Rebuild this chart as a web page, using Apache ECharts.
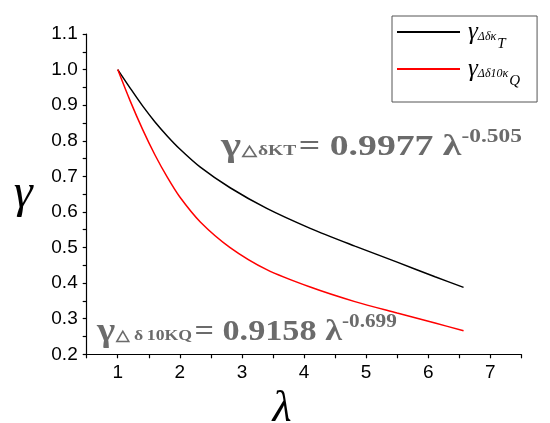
<!DOCTYPE html>
<html>
<head>
<meta charset="utf-8">
<script src="https://cdn.jsdelivr.net/npm/echarts@6/dist/echarts.min.js"></script>
<style>
html,body{margin:0;padding:0;background:#fff;}
#chart{width:550px;height:423px;}
</style>
</head>
<body>
<div id="chart"></div>
<script>
// ---- data ----
const lambda    = [1, 1.2, 1.4, 1.6, 1.8, 2.0, 2.33, 2.81, 3.4, 4.1, 4.82, 5.5, 6.11, 6.57];
const gammaKT   = [1.0, 0.948, 0.898, 0.853, 0.813, 0.777, 0.726, 0.668, 0.610, 0.554, 0.504, 0.459, 0.418, 0.388];
const gamma10KQ = [1.0, 0.912, 0.832, 0.760, 0.697, 0.642, 0.572, 0.500, 0.438, 0.389, 0.348, 0.316, 0.288, 0.266];
const seriesNames = ['gKT', 'g10KQ'];
const xTicks = [1, 2, 3, 4, 5, 6, 7];

const pairs = (xs, ys) => xs.map((x, i) => [x, ys[i]]);

const serif = '"Liberation Serif", "Times New Roman", serif';
const sans = '"Liberation Sans", Arial, sans-serif';
const gray = '#6b6b6b';

function legendRich() {
  return {
    g:  { fontFamily: serif, fontStyle: 'italic', fontSize: 25, lineHeight: 24, padding: [0, 0, 0, 3], verticalAlign: 'top', color: '#000' },
    s:  { fontFamily: serif, fontStyle: 'italic', fontSize: 12, lineHeight: 12, padding: [11, 1, 0, 0], verticalAlign: 'top', color: '#000' },
    t:  { fontFamily: serif, fontStyle: 'italic', fontSize: 15, lineHeight: 14, padding: [17, 0, 0, 0], verticalAlign: 'top', color: '#000' }
  };
}

function annRich() {
  return {
    g:   { fontFamily: serif, fontWeight: 'bold', fontSize: 33, lineHeight: 32, padding: [5, 0, 0, 0], verticalAlign: 'top', fill: gray },
    s:   { fontFamily: serif, fontWeight: 'bold', fontSize: 15, lineHeight: 15, padding: [18, 2, 0, 1], verticalAlign: 'top', fill: gray },
    m:   { fontFamily: serif, fontWeight: 'bold', fontSize: 29, lineHeight: 29, padding: [7, 0, 0, 0], verticalAlign: 'top', fill: gray },
    p:   { fontFamily: serif, fontWeight: 'bold', fontSize: 18, lineHeight: 18, padding: [2, 0, 0, 0], verticalAlign: 'top', fill: gray }
  };
}

const chart = echarts.init(document.getElementById('chart'));
chart.setOption({
  animation: false,
  backgroundColor: '#fff',
  grid: { left: 86.7, right: 28.7, top: 34, bottom: 68.7, containLabel: false, outerBoundsMode: 'none' },
  legend: {
    orient: 'vertical',
    left: 392, top: 16,
    width: 130,
    padding: [4, 17, 13, 5],
    borderColor: '#555', borderWidth: 1,
    itemWidth: 63, itemHeight: 2,
    itemGap: 5,
    icon: 'rect',
    data: seriesNames,
    formatter: function (name) {
      return name === 'gKT' ? '{g|γ}{s|Δδκ}{t|T}' : '{g|γ}{s|Δδ10κ}{t|Q}';
    },
    textStyle: { rich: legendRich() }
  },
  xAxis: {
    type: 'value', min: 0.5, max: 7.5, interval: 0.5,
    name: 'λ', nameLocation: 'middle', nameGap: 27,
    nameTextStyle: { fontFamily: serif, fontStyle: 'italic', fontSize: 44, color: '#000', padding: [0, 44, 0, 0], verticalAlign: 'top' },
    axisLine: { lineStyle: { color: '#000', width: 1.2 } },
    axisTick: { inside: false, length: 4, lineStyle: { color: '#000', width: 1.2 } },
    axisLabel: {
      margin: 9, fontFamily: sans, fontSize: 19, color: '#000',
      formatter: v => xTicks.includes(Math.round(v * 100) / 100) ? String(Math.round(v)) : ''
    },
    splitLine: { show: false }
  },
  yAxis: {
    type: 'value', min: 0.2, max: 1.1, interval: 0.05,
    name: 'γ', nameLocation: 'middle', nameGap: 54, nameRotate: 0,
    nameTextStyle: { fontFamily: serif, fontStyle: 'italic', fontSize: 48, color: '#000' },
    axisLine: { show: true, lineStyle: { color: '#000', width: 1.2 } },
    axisTick: { show: true, inside: false, length: 4, lineStyle: { color: '#000', width: 1.2 } },
    axisLabel: {
      margin: 9, fontFamily: sans, fontSize: 19, color: '#000',
      formatter: v => Math.abs(v * 10 - Math.round(v * 10)) < 1e-6 ? (Math.round(v * 10) / 10).toFixed(1) : ''
    },
    splitLine: { show: false }
  },
  series: [
    { name: seriesNames[0], type: 'line', smooth: 0.3, showSymbol: false, data: pairs(lambda, gammaKT),
      lineStyle: { color: '#000', width: 1.5 }, itemStyle: { color: '#000' } },
    { name: seriesNames[1], type: 'line', smooth: 0.3, showSymbol: false, data: pairs(lambda, gamma10KQ),
      lineStyle: { color: '#ff0000', width: 1.5 }, itemStyle: { color: '#ff0000' } }
  ],
  graphic: [
    { type: 'text', x: 221, y: 126, scaleX: 1.3, z: 10,
      style: { text: '{g|γ}{s|△δKT}{m|= 0.9977 λ}{p|-0.505}', rich: annRich(), fill: gray } },
    { type: 'text', x: 97, y: 311, scaleX: 1.18, z: 10,
      style: { text: '{g|γ}{s|△\u2009δ\u200910KQ}{m|= 0.9158 λ}{p|-0.699}', rich: annRich(), fill: gray } }
  ]
});
</script>
</body>
</html>
